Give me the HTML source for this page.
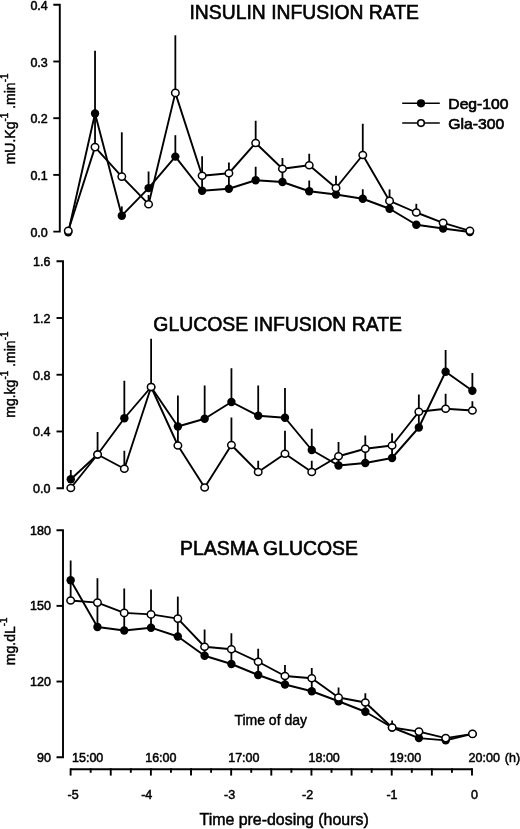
<!DOCTYPE html>
<html><head><meta charset="utf-8"><title>Insulin, glucose infusion rate and plasma glucose</title>
<style>
html,body{margin:0;padding:0;background:#fff;}
body{width:520px;height:829px;overflow:hidden;}
svg{display:block;}
text{font-family:"Liberation Sans", Arial, Helvetica, sans-serif;fill:#000;stroke:#000;stroke-width:0.35px;}
.tk{font-size:12.5px;stroke-width:0.5px;}
.lg{font-size:15px;stroke-width:0.65px;}
.ti{font-size:19.5px;stroke-width:0.6px;}
.yl{font-size:14px;stroke-width:0.45px;}
.sup{font-size:10px;}
.tod{font-size:14px;stroke-width:0.45px;}
.xt{font-size:16px;stroke-width:0.5px;}
</style></head>
<body>
<svg width="520" height="829" viewBox="0 0 520 829">
<rect width="520" height="829" fill="#fff"/>
<path d="M53.30,4.80 H59.80 V231.60 H53.30" fill="none" stroke="#000" stroke-width="1.9"/>
<line x1="53.30" y1="61.50" x2="59.80" y2="61.50" stroke="#000" stroke-width="1.9"/>
<line x1="53.30" y1="118.20" x2="59.80" y2="118.20" stroke="#000" stroke-width="1.9"/>
<line x1="53.30" y1="174.90" x2="59.80" y2="174.90" stroke="#000" stroke-width="1.9"/>
<text x="47.80" y="9.80" text-anchor="end" class="tk">0.4</text>
<text x="47.80" y="66.50" text-anchor="end" class="tk">0.3</text>
<text x="47.80" y="123.20" text-anchor="end" class="tk">0.2</text>
<text x="47.80" y="179.90" text-anchor="end" class="tk">0.1</text>
<text x="47.80" y="236.60" text-anchor="end" class="tk">0.0</text>
<path d="M56.50,261.25 H63.00 V488.21 H56.50" fill="none" stroke="#000" stroke-width="1.9"/>
<line x1="56.50" y1="317.99" x2="63.00" y2="317.99" stroke="#000" stroke-width="1.9"/>
<line x1="56.50" y1="374.73" x2="63.00" y2="374.73" stroke="#000" stroke-width="1.9"/>
<line x1="56.50" y1="431.47" x2="63.00" y2="431.47" stroke="#000" stroke-width="1.9"/>
<text x="50.40" y="266.05" text-anchor="end" class="tk">1.6</text>
<text x="50.40" y="322.79" text-anchor="end" class="tk">1.2</text>
<text x="50.40" y="379.53" text-anchor="end" class="tk">0.8</text>
<text x="50.40" y="436.27" text-anchor="end" class="tk">0.4</text>
<text x="50.40" y="493.01" text-anchor="end" class="tk">0.0</text>
<path d="M56.50,530.20 H63.00 V757.21 H56.50" fill="none" stroke="#000" stroke-width="1.9"/>
<line x1="56.50" y1="605.87" x2="63.00" y2="605.87" stroke="#000" stroke-width="1.9"/>
<line x1="56.50" y1="681.54" x2="63.00" y2="681.54" stroke="#000" stroke-width="1.9"/>
<text x="50.90" y="534.70" text-anchor="end" class="tk">180</text>
<text x="50.90" y="610.37" text-anchor="end" class="tk">150</text>
<text x="50.90" y="686.04" text-anchor="end" class="tk">120</text>
<text x="50.90" y="761.71" text-anchor="end" class="tk">90</text>
<line x1="70.5" y1="769.2" x2="472.4" y2="769.2" stroke="#000" stroke-width="1.9"/>
<line x1="70.60" y1="768.3000000000001" x2="70.60" y2="775.6" stroke="#000" stroke-width="1.9"/>
<line x1="90.67" y1="768.3000000000001" x2="90.67" y2="772.8" stroke="#000" stroke-width="1.9"/>
<line x1="110.74" y1="768.3000000000001" x2="110.74" y2="775.6" stroke="#000" stroke-width="1.9"/>
<line x1="130.81" y1="768.3000000000001" x2="130.81" y2="772.8" stroke="#000" stroke-width="1.9"/>
<line x1="150.88" y1="768.3000000000001" x2="150.88" y2="775.6" stroke="#000" stroke-width="1.9"/>
<line x1="170.95" y1="768.3000000000001" x2="170.95" y2="772.8" stroke="#000" stroke-width="1.9"/>
<line x1="191.02" y1="768.3000000000001" x2="191.02" y2="775.6" stroke="#000" stroke-width="1.9"/>
<line x1="211.09" y1="768.3000000000001" x2="211.09" y2="772.8" stroke="#000" stroke-width="1.9"/>
<line x1="231.16" y1="768.3000000000001" x2="231.16" y2="775.6" stroke="#000" stroke-width="1.9"/>
<line x1="251.23" y1="768.3000000000001" x2="251.23" y2="772.8" stroke="#000" stroke-width="1.9"/>
<line x1="271.30" y1="768.3000000000001" x2="271.30" y2="775.6" stroke="#000" stroke-width="1.9"/>
<line x1="291.37" y1="768.3000000000001" x2="291.37" y2="772.8" stroke="#000" stroke-width="1.9"/>
<line x1="311.44" y1="768.3000000000001" x2="311.44" y2="775.6" stroke="#000" stroke-width="1.9"/>
<line x1="331.51" y1="768.3000000000001" x2="331.51" y2="772.8" stroke="#000" stroke-width="1.9"/>
<line x1="351.58" y1="768.3000000000001" x2="351.58" y2="775.6" stroke="#000" stroke-width="1.9"/>
<line x1="371.65" y1="768.3000000000001" x2="371.65" y2="772.8" stroke="#000" stroke-width="1.9"/>
<line x1="391.72" y1="768.3000000000001" x2="391.72" y2="775.6" stroke="#000" stroke-width="1.9"/>
<line x1="411.79" y1="768.3000000000001" x2="411.79" y2="772.8" stroke="#000" stroke-width="1.9"/>
<line x1="431.86" y1="768.3000000000001" x2="431.86" y2="775.6" stroke="#000" stroke-width="1.9"/>
<line x1="451.93" y1="768.3000000000001" x2="451.93" y2="772.8" stroke="#000" stroke-width="1.9"/>
<line x1="472.00" y1="768.3000000000001" x2="472.00" y2="775.6" stroke="#000" stroke-width="1.9"/>
<polyline points="68.25,232.30 95.03,113.50 121.80,215.70 148.57,188.10 175.35,156.60 202.12,190.75 228.90,188.75 255.67,180.25 282.45,182.00 309.23,191.25 336.00,194.50 362.77,198.75 389.55,208.75 416.32,224.75 443.10,228.50 469.88,232.00" fill="none" stroke="#000" stroke-width="1.9" stroke-linejoin="round"/>
<line x1="95.03" y1="113.50" x2="95.03" y2="50.70" stroke="#000" stroke-width="1.8"/>
<line x1="121.80" y1="215.70" x2="121.80" y2="206.40" stroke="#000" stroke-width="1.8"/>
<line x1="148.57" y1="188.10" x2="148.57" y2="171.50" stroke="#000" stroke-width="1.8"/>
<line x1="175.35" y1="156.60" x2="175.35" y2="135.20" stroke="#000" stroke-width="1.8"/>
<line x1="202.12" y1="190.75" x2="202.12" y2="175.75" stroke="#000" stroke-width="1.8"/>
<line x1="228.90" y1="188.75" x2="228.90" y2="173.25" stroke="#000" stroke-width="1.8"/>
<line x1="255.67" y1="180.25" x2="255.67" y2="166.75" stroke="#000" stroke-width="1.8"/>
<line x1="282.45" y1="182.00" x2="282.45" y2="168.75" stroke="#000" stroke-width="1.8"/>
<line x1="309.23" y1="191.25" x2="309.23" y2="180.50" stroke="#000" stroke-width="1.8"/>
<line x1="362.77" y1="198.75" x2="362.77" y2="189.25" stroke="#000" stroke-width="1.8"/>
<line x1="389.55" y1="208.75" x2="389.55" y2="200.90" stroke="#000" stroke-width="1.8"/>
<ellipse cx="68.25" cy="232.30" rx="4.2" ry="4.2" fill="#000"/>
<ellipse cx="95.03" cy="113.50" rx="4.2" ry="4.2" fill="#000"/>
<ellipse cx="121.80" cy="215.70" rx="4.2" ry="4.2" fill="#000"/>
<ellipse cx="148.57" cy="188.10" rx="4.2" ry="4.2" fill="#000"/>
<ellipse cx="175.35" cy="156.60" rx="4.2" ry="4.2" fill="#000"/>
<ellipse cx="202.12" cy="190.75" rx="4.2" ry="4.2" fill="#000"/>
<ellipse cx="228.90" cy="188.75" rx="4.2" ry="4.2" fill="#000"/>
<ellipse cx="255.67" cy="180.25" rx="4.2" ry="4.2" fill="#000"/>
<ellipse cx="282.45" cy="182.00" rx="4.2" ry="4.2" fill="#000"/>
<ellipse cx="309.23" cy="191.25" rx="4.2" ry="4.2" fill="#000"/>
<ellipse cx="336.00" cy="194.50" rx="4.2" ry="4.2" fill="#000"/>
<ellipse cx="362.77" cy="198.75" rx="4.2" ry="4.2" fill="#000"/>
<ellipse cx="389.55" cy="208.75" rx="4.2" ry="4.2" fill="#000"/>
<ellipse cx="416.32" cy="224.75" rx="4.2" ry="4.2" fill="#000"/>
<ellipse cx="443.10" cy="228.50" rx="4.2" ry="4.2" fill="#000"/>
<ellipse cx="469.88" cy="232.00" rx="4.2" ry="4.2" fill="#000"/>
<polyline points="68.25,230.80 95.03,147.10 121.80,176.60 148.57,204.20 175.35,92.90 202.12,175.75 228.90,173.25 255.67,143.00 282.45,168.75 309.23,165.25 336.00,188.00 362.77,155.00 389.55,200.90 416.32,212.50 443.10,222.80 469.88,230.80" fill="none" stroke="#000" stroke-width="1.9" stroke-linejoin="round"/>
<line x1="95.03" y1="147.10" x2="95.03" y2="113.50" stroke="#000" stroke-width="1.8"/>
<line x1="121.80" y1="176.60" x2="121.80" y2="132.30" stroke="#000" stroke-width="1.8"/>
<line x1="148.57" y1="204.20" x2="148.57" y2="195.00" stroke="#000" stroke-width="1.8"/>
<line x1="175.35" y1="92.90" x2="175.35" y2="35.30" stroke="#000" stroke-width="1.8"/>
<line x1="202.12" y1="175.75" x2="202.12" y2="156.25" stroke="#000" stroke-width="1.8"/>
<line x1="228.90" y1="173.25" x2="228.90" y2="162.50" stroke="#000" stroke-width="1.8"/>
<line x1="255.67" y1="143.00" x2="255.67" y2="120.75" stroke="#000" stroke-width="1.8"/>
<line x1="282.45" y1="168.75" x2="282.45" y2="158.00" stroke="#000" stroke-width="1.8"/>
<line x1="309.23" y1="165.25" x2="309.23" y2="153.75" stroke="#000" stroke-width="1.8"/>
<line x1="336.00" y1="188.00" x2="336.00" y2="175.75" stroke="#000" stroke-width="1.8"/>
<line x1="362.77" y1="155.00" x2="362.77" y2="123.75" stroke="#000" stroke-width="1.8"/>
<line x1="389.55" y1="200.90" x2="389.55" y2="189.40" stroke="#000" stroke-width="1.8"/>
<line x1="416.32" y1="212.50" x2="416.32" y2="203.80" stroke="#000" stroke-width="1.8"/>
<ellipse cx="68.25" cy="230.80" rx="3.75" ry="3.55" fill="#fff" stroke="#000" stroke-width="1.5"/>
<ellipse cx="95.03" cy="147.10" rx="3.75" ry="3.55" fill="#fff" stroke="#000" stroke-width="1.5"/>
<ellipse cx="121.80" cy="176.60" rx="3.75" ry="3.55" fill="#fff" stroke="#000" stroke-width="1.5"/>
<ellipse cx="148.57" cy="204.20" rx="3.75" ry="3.55" fill="#fff" stroke="#000" stroke-width="1.5"/>
<ellipse cx="175.35" cy="92.90" rx="3.75" ry="3.55" fill="#fff" stroke="#000" stroke-width="1.5"/>
<ellipse cx="202.12" cy="175.75" rx="3.75" ry="3.55" fill="#fff" stroke="#000" stroke-width="1.5"/>
<ellipse cx="228.90" cy="173.25" rx="3.75" ry="3.55" fill="#fff" stroke="#000" stroke-width="1.5"/>
<ellipse cx="255.67" cy="143.00" rx="3.75" ry="3.55" fill="#fff" stroke="#000" stroke-width="1.5"/>
<ellipse cx="282.45" cy="168.75" rx="3.75" ry="3.55" fill="#fff" stroke="#000" stroke-width="1.5"/>
<ellipse cx="309.23" cy="165.25" rx="3.75" ry="3.55" fill="#fff" stroke="#000" stroke-width="1.5"/>
<ellipse cx="336.00" cy="188.00" rx="3.75" ry="3.55" fill="#fff" stroke="#000" stroke-width="1.5"/>
<ellipse cx="362.77" cy="155.00" rx="3.75" ry="3.55" fill="#fff" stroke="#000" stroke-width="1.5"/>
<ellipse cx="389.55" cy="200.90" rx="3.75" ry="3.55" fill="#fff" stroke="#000" stroke-width="1.5"/>
<ellipse cx="416.32" cy="212.50" rx="3.75" ry="3.55" fill="#fff" stroke="#000" stroke-width="1.5"/>
<ellipse cx="443.10" cy="222.80" rx="3.75" ry="3.55" fill="#fff" stroke="#000" stroke-width="1.5"/>
<ellipse cx="469.88" cy="230.80" rx="3.75" ry="3.55" fill="#fff" stroke="#000" stroke-width="1.5"/>
<polyline points="70.80,479.25 97.57,454.50 124.34,418.25 151.12,387.00 177.89,426.50 204.66,418.75 231.43,402.00 258.20,415.75 284.98,417.75 311.75,450.00 338.52,465.50 365.29,463.00 392.06,458.00 418.84,427.50 445.61,371.75 472.38,390.75" fill="none" stroke="#000" stroke-width="1.9" stroke-linejoin="round"/>
<line x1="70.80" y1="479.25" x2="70.80" y2="470.00" stroke="#000" stroke-width="1.8"/>
<line x1="97.57" y1="454.50" x2="97.57" y2="432.00" stroke="#000" stroke-width="1.8"/>
<line x1="124.34" y1="418.25" x2="124.34" y2="380.75" stroke="#000" stroke-width="1.8"/>
<line x1="151.12" y1="387.00" x2="151.12" y2="338.75" stroke="#000" stroke-width="1.8"/>
<line x1="177.89" y1="426.50" x2="177.89" y2="395.50" stroke="#000" stroke-width="1.8"/>
<line x1="204.66" y1="418.75" x2="204.66" y2="385.50" stroke="#000" stroke-width="1.8"/>
<line x1="231.43" y1="402.00" x2="231.43" y2="368.25" stroke="#000" stroke-width="1.8"/>
<line x1="258.20" y1="415.75" x2="258.20" y2="385.50" stroke="#000" stroke-width="1.8"/>
<line x1="284.98" y1="417.75" x2="284.98" y2="388.00" stroke="#000" stroke-width="1.8"/>
<line x1="311.75" y1="450.00" x2="311.75" y2="428.75" stroke="#000" stroke-width="1.8"/>
<line x1="338.52" y1="465.50" x2="338.52" y2="456.25" stroke="#000" stroke-width="1.8"/>
<line x1="365.29" y1="463.00" x2="365.29" y2="448.75" stroke="#000" stroke-width="1.8"/>
<line x1="392.06" y1="458.00" x2="392.06" y2="445.50" stroke="#000" stroke-width="1.8"/>
<line x1="418.84" y1="427.50" x2="418.84" y2="411.75" stroke="#000" stroke-width="1.8"/>
<line x1="445.61" y1="371.75" x2="445.61" y2="350.00" stroke="#000" stroke-width="1.8"/>
<line x1="472.38" y1="390.75" x2="472.38" y2="373.00" stroke="#000" stroke-width="1.8"/>
<ellipse cx="70.80" cy="479.25" rx="4.2" ry="4.2" fill="#000"/>
<ellipse cx="97.57" cy="454.50" rx="4.2" ry="4.2" fill="#000"/>
<ellipse cx="124.34" cy="418.25" rx="4.2" ry="4.2" fill="#000"/>
<ellipse cx="151.12" cy="387.00" rx="4.2" ry="4.2" fill="#000"/>
<ellipse cx="177.89" cy="426.50" rx="4.2" ry="4.2" fill="#000"/>
<ellipse cx="204.66" cy="418.75" rx="4.2" ry="4.2" fill="#000"/>
<ellipse cx="231.43" cy="402.00" rx="4.2" ry="4.2" fill="#000"/>
<ellipse cx="258.20" cy="415.75" rx="4.2" ry="4.2" fill="#000"/>
<ellipse cx="284.98" cy="417.75" rx="4.2" ry="4.2" fill="#000"/>
<ellipse cx="311.75" cy="450.00" rx="4.2" ry="4.2" fill="#000"/>
<ellipse cx="338.52" cy="465.50" rx="4.2" ry="4.2" fill="#000"/>
<ellipse cx="365.29" cy="463.00" rx="4.2" ry="4.2" fill="#000"/>
<ellipse cx="392.06" cy="458.00" rx="4.2" ry="4.2" fill="#000"/>
<ellipse cx="418.84" cy="427.50" rx="4.2" ry="4.2" fill="#000"/>
<ellipse cx="445.61" cy="371.75" rx="4.2" ry="4.2" fill="#000"/>
<ellipse cx="472.38" cy="390.75" rx="4.2" ry="4.2" fill="#000"/>
<polyline points="70.80,488.00 97.57,454.50 124.34,468.75 151.12,387.00 177.89,445.50 204.66,487.50 231.43,445.00 258.20,472.00 284.98,453.75 311.75,472.00 338.52,456.25 365.29,448.75 392.06,445.50 418.84,411.75 445.61,408.75 472.38,410.50" fill="none" stroke="#000" stroke-width="1.9" stroke-linejoin="round"/>
<line x1="124.34" y1="468.75" x2="124.34" y2="450.75" stroke="#000" stroke-width="1.8"/>
<line x1="177.89" y1="445.50" x2="177.89" y2="426.50" stroke="#000" stroke-width="1.8"/>
<line x1="231.43" y1="445.00" x2="231.43" y2="417.50" stroke="#000" stroke-width="1.8"/>
<line x1="258.20" y1="472.00" x2="258.20" y2="460.75" stroke="#000" stroke-width="1.8"/>
<line x1="284.98" y1="453.75" x2="284.98" y2="430.75" stroke="#000" stroke-width="1.8"/>
<line x1="311.75" y1="472.00" x2="311.75" y2="460.75" stroke="#000" stroke-width="1.8"/>
<line x1="338.52" y1="456.25" x2="338.52" y2="442.00" stroke="#000" stroke-width="1.8"/>
<line x1="365.29" y1="448.75" x2="365.29" y2="435.50" stroke="#000" stroke-width="1.8"/>
<line x1="392.06" y1="445.50" x2="392.06" y2="433.25" stroke="#000" stroke-width="1.8"/>
<line x1="418.84" y1="411.75" x2="418.84" y2="394.50" stroke="#000" stroke-width="1.8"/>
<line x1="445.61" y1="408.75" x2="445.61" y2="393.75" stroke="#000" stroke-width="1.8"/>
<line x1="472.38" y1="410.50" x2="472.38" y2="401.25" stroke="#000" stroke-width="1.8"/>
<ellipse cx="70.80" cy="488.00" rx="3.75" ry="3.55" fill="#fff" stroke="#000" stroke-width="1.5"/>
<ellipse cx="97.57" cy="454.50" rx="3.75" ry="3.55" fill="#fff" stroke="#000" stroke-width="1.5"/>
<ellipse cx="124.34" cy="468.75" rx="3.75" ry="3.55" fill="#fff" stroke="#000" stroke-width="1.5"/>
<ellipse cx="151.12" cy="387.00" rx="3.75" ry="3.55" fill="#fff" stroke="#000" stroke-width="1.5"/>
<ellipse cx="177.89" cy="445.50" rx="3.75" ry="3.55" fill="#fff" stroke="#000" stroke-width="1.5"/>
<ellipse cx="204.66" cy="487.50" rx="3.75" ry="3.55" fill="#fff" stroke="#000" stroke-width="1.5"/>
<ellipse cx="231.43" cy="445.00" rx="3.75" ry="3.55" fill="#fff" stroke="#000" stroke-width="1.5"/>
<ellipse cx="258.20" cy="472.00" rx="3.75" ry="3.55" fill="#fff" stroke="#000" stroke-width="1.5"/>
<ellipse cx="284.98" cy="453.75" rx="3.75" ry="3.55" fill="#fff" stroke="#000" stroke-width="1.5"/>
<ellipse cx="311.75" cy="472.00" rx="3.75" ry="3.55" fill="#fff" stroke="#000" stroke-width="1.5"/>
<ellipse cx="338.52" cy="456.25" rx="3.75" ry="3.55" fill="#fff" stroke="#000" stroke-width="1.5"/>
<ellipse cx="365.29" cy="448.75" rx="3.75" ry="3.55" fill="#fff" stroke="#000" stroke-width="1.5"/>
<ellipse cx="392.06" cy="445.50" rx="3.75" ry="3.55" fill="#fff" stroke="#000" stroke-width="1.5"/>
<ellipse cx="418.84" cy="411.75" rx="3.75" ry="3.55" fill="#fff" stroke="#000" stroke-width="1.5"/>
<ellipse cx="445.61" cy="408.75" rx="3.75" ry="3.55" fill="#fff" stroke="#000" stroke-width="1.5"/>
<ellipse cx="472.38" cy="410.50" rx="3.75" ry="3.55" fill="#fff" stroke="#000" stroke-width="1.5"/>
<polyline points="70.65,580.30 97.44,627.00 124.23,630.50 151.02,627.70 177.81,636.50 204.60,655.75 231.39,664.00 258.18,675.00 284.97,684.50 311.76,691.25 338.55,701.25 365.34,711.75 392.13,727.50 418.92,738.10 445.71,740.40 472.50,733.90" fill="none" stroke="#000" stroke-width="1.9" stroke-linejoin="round"/>
<line x1="70.65" y1="580.30" x2="70.65" y2="560.50" stroke="#000" stroke-width="1.8"/>
<line x1="97.44" y1="627.00" x2="97.44" y2="602.60" stroke="#000" stroke-width="1.8"/>
<line x1="124.23" y1="630.50" x2="124.23" y2="612.90" stroke="#000" stroke-width="1.8"/>
<line x1="151.02" y1="627.70" x2="151.02" y2="614.40" stroke="#000" stroke-width="1.8"/>
<line x1="177.81" y1="636.50" x2="177.81" y2="618.60" stroke="#000" stroke-width="1.8"/>
<line x1="204.60" y1="655.75" x2="204.60" y2="646.75" stroke="#000" stroke-width="1.8"/>
<line x1="231.39" y1="664.00" x2="231.39" y2="649.25" stroke="#000" stroke-width="1.8"/>
<line x1="258.18" y1="675.00" x2="258.18" y2="661.75" stroke="#000" stroke-width="1.8"/>
<line x1="284.97" y1="684.50" x2="284.97" y2="676.00" stroke="#000" stroke-width="1.8"/>
<line x1="311.76" y1="691.25" x2="311.76" y2="678.25" stroke="#000" stroke-width="1.8"/>
<line x1="338.55" y1="701.25" x2="338.55" y2="697.50" stroke="#000" stroke-width="1.8"/>
<line x1="365.34" y1="711.75" x2="365.34" y2="702.50" stroke="#000" stroke-width="1.8"/>
<line x1="418.92" y1="738.10" x2="418.92" y2="731.60" stroke="#000" stroke-width="1.8"/>
<line x1="445.71" y1="740.40" x2="445.71" y2="738.10" stroke="#000" stroke-width="1.8"/>
<ellipse cx="70.65" cy="580.30" rx="4.2" ry="4.2" fill="#000"/>
<ellipse cx="97.44" cy="627.00" rx="4.2" ry="4.2" fill="#000"/>
<ellipse cx="124.23" cy="630.50" rx="4.2" ry="4.2" fill="#000"/>
<ellipse cx="151.02" cy="627.70" rx="4.2" ry="4.2" fill="#000"/>
<ellipse cx="177.81" cy="636.50" rx="4.2" ry="4.2" fill="#000"/>
<ellipse cx="204.60" cy="655.75" rx="4.2" ry="4.2" fill="#000"/>
<ellipse cx="231.39" cy="664.00" rx="4.2" ry="4.2" fill="#000"/>
<ellipse cx="258.18" cy="675.00" rx="4.2" ry="4.2" fill="#000"/>
<ellipse cx="284.97" cy="684.50" rx="4.2" ry="4.2" fill="#000"/>
<ellipse cx="311.76" cy="691.25" rx="4.2" ry="4.2" fill="#000"/>
<ellipse cx="338.55" cy="701.25" rx="4.2" ry="4.2" fill="#000"/>
<ellipse cx="365.34" cy="711.75" rx="4.2" ry="4.2" fill="#000"/>
<ellipse cx="392.13" cy="727.50" rx="4.2" ry="4.2" fill="#000"/>
<ellipse cx="418.92" cy="738.10" rx="4.2" ry="4.2" fill="#000"/>
<ellipse cx="445.71" cy="740.40" rx="4.2" ry="4.2" fill="#000"/>
<ellipse cx="472.50" cy="733.90" rx="4.2" ry="4.2" fill="#000"/>
<polyline points="70.65,600.50 97.44,602.60 124.23,612.90 151.02,614.40 177.81,618.60 204.60,646.75 231.39,649.25 258.18,661.75 284.97,676.00 311.76,678.25 338.55,697.50 365.34,702.50 392.13,727.50 418.92,731.60 445.71,738.10 472.50,733.90" fill="none" stroke="#000" stroke-width="1.9" stroke-linejoin="round"/>
<line x1="70.65" y1="600.50" x2="70.65" y2="580.30" stroke="#000" stroke-width="1.8"/>
<line x1="97.44" y1="602.60" x2="97.44" y2="578.20" stroke="#000" stroke-width="1.8"/>
<line x1="124.23" y1="612.90" x2="124.23" y2="588.50" stroke="#000" stroke-width="1.8"/>
<line x1="151.02" y1="614.40" x2="151.02" y2="589.60" stroke="#000" stroke-width="1.8"/>
<line x1="177.81" y1="618.60" x2="177.81" y2="596.60" stroke="#000" stroke-width="1.8"/>
<line x1="204.60" y1="646.75" x2="204.60" y2="629.50" stroke="#000" stroke-width="1.8"/>
<line x1="231.39" y1="649.25" x2="231.39" y2="633.25" stroke="#000" stroke-width="1.8"/>
<line x1="258.18" y1="661.75" x2="258.18" y2="648.75" stroke="#000" stroke-width="1.8"/>
<line x1="284.97" y1="676.00" x2="284.97" y2="665.00" stroke="#000" stroke-width="1.8"/>
<line x1="311.76" y1="678.25" x2="311.76" y2="668.00" stroke="#000" stroke-width="1.8"/>
<line x1="338.55" y1="697.50" x2="338.55" y2="687.50" stroke="#000" stroke-width="1.8"/>
<line x1="365.34" y1="702.50" x2="365.34" y2="693.25" stroke="#000" stroke-width="1.8"/>
<line x1="392.13" y1="727.50" x2="392.13" y2="720.50" stroke="#000" stroke-width="1.8"/>
<ellipse cx="70.65" cy="600.50" rx="3.75" ry="3.55" fill="#fff" stroke="#000" stroke-width="1.5"/>
<ellipse cx="97.44" cy="602.60" rx="3.75" ry="3.55" fill="#fff" stroke="#000" stroke-width="1.5"/>
<ellipse cx="124.23" cy="612.90" rx="3.75" ry="3.55" fill="#fff" stroke="#000" stroke-width="1.5"/>
<ellipse cx="151.02" cy="614.40" rx="3.75" ry="3.55" fill="#fff" stroke="#000" stroke-width="1.5"/>
<ellipse cx="177.81" cy="618.60" rx="3.75" ry="3.55" fill="#fff" stroke="#000" stroke-width="1.5"/>
<ellipse cx="204.60" cy="646.75" rx="3.75" ry="3.55" fill="#fff" stroke="#000" stroke-width="1.5"/>
<ellipse cx="231.39" cy="649.25" rx="3.75" ry="3.55" fill="#fff" stroke="#000" stroke-width="1.5"/>
<ellipse cx="258.18" cy="661.75" rx="3.75" ry="3.55" fill="#fff" stroke="#000" stroke-width="1.5"/>
<ellipse cx="284.97" cy="676.00" rx="3.75" ry="3.55" fill="#fff" stroke="#000" stroke-width="1.5"/>
<ellipse cx="311.76" cy="678.25" rx="3.75" ry="3.55" fill="#fff" stroke="#000" stroke-width="1.5"/>
<ellipse cx="338.55" cy="697.50" rx="3.75" ry="3.55" fill="#fff" stroke="#000" stroke-width="1.5"/>
<ellipse cx="365.34" cy="702.50" rx="3.75" ry="3.55" fill="#fff" stroke="#000" stroke-width="1.5"/>
<ellipse cx="392.13" cy="727.50" rx="3.75" ry="3.55" fill="#fff" stroke="#000" stroke-width="1.5"/>
<ellipse cx="418.92" cy="731.60" rx="3.75" ry="3.55" fill="#fff" stroke="#000" stroke-width="1.5"/>
<ellipse cx="445.71" cy="738.10" rx="3.75" ry="3.55" fill="#fff" stroke="#000" stroke-width="1.5"/>
<ellipse cx="472.50" cy="733.90" rx="3.75" ry="3.55" fill="#fff" stroke="#000" stroke-width="1.5"/>
<line x1="402.2" y1="103.2" x2="439.8" y2="103.2" stroke="#000" stroke-width="1.5"/>
<circle cx="421" cy="103.3" r="4.1" fill="#000"/>
<line x1="402.2" y1="123.1" x2="439.8" y2="123.1" stroke="#000" stroke-width="1.5"/>
<circle cx="421" cy="123.1" r="3.3" fill="#fff" stroke="#000" stroke-width="1.6"/>
<text x="448.3" y="108.7" class="lg" textLength="60.2" lengthAdjust="spacingAndGlyphs">Deg-100</text>
<text x="448.3" y="128.9" class="lg" textLength="56.0" lengthAdjust="spacingAndGlyphs">Gla-300</text>
<text x="189.5" y="18.7" class="ti" textLength="229.5" lengthAdjust="spacingAndGlyphs">INSULIN INFUSION RATE</text>
<text x="153.3" y="331.0" class="ti" textLength="248.7" lengthAdjust="spacingAndGlyphs">GLUCOSE INFUSION RATE</text>
<text x="180.0" y="554.6" class="ti" textLength="178" lengthAdjust="spacingAndGlyphs">PLASMA GLUCOSE</text>
<text transform="translate(15.0,118.9) rotate(-90)" text-anchor="middle" class="yl">mU.Kg<tspan class="sup" dy="-7.5">-1</tspan><tspan dy="7.5"> .min</tspan><tspan class="sup" dy="-7.5">-1</tspan></text>
<text transform="translate(15.0,374.6) rotate(-90)" text-anchor="middle" class="yl">mg.kg<tspan class="sup" dy="-7.5">-1</tspan><tspan dy="7.5"> .min</tspan><tspan class="sup" dy="-7.5">-1</tspan></text>
<text transform="translate(14.6,641.3) rotate(-90)" text-anchor="middle" class="yl">mg.dL<tspan class="sup" dy="-7.5">-1</tspan></text>
<text x="234.4" y="725.4" class="tod">Time of day</text>
<text x="72.0" y="761.8" class="tk">15:00</text>
<text x="145.2" y="761.8" class="tk">16:00</text>
<text x="228.2" y="761.8" class="tk">17:00</text>
<text x="308.5" y="761.8" class="tk">18:00</text>
<text x="389.8" y="761.8" class="tk">19:00</text>
<text x="468.6" y="761.8" class="tk">20:00</text>
<text x="504.8" y="761.8" class="tk">(h)</text>
<text x="67.5" y="798.7" class="tk">-5</text>
<text x="141.2" y="798.7" class="tk">-4</text>
<text x="224.0" y="798.7" class="tk">-3</text>
<text x="302.0" y="798.7" class="tk">-2</text>
<text x="386.4" y="798.7" class="tk">-1</text>
<text x="470.9" y="798.7" class="tk">0</text>
<text x="199.5" y="825.4" class="xt" textLength="169.2" lengthAdjust="spacingAndGlyphs">Time pre-dosing (hours)</text>
</svg>
</body></html>
